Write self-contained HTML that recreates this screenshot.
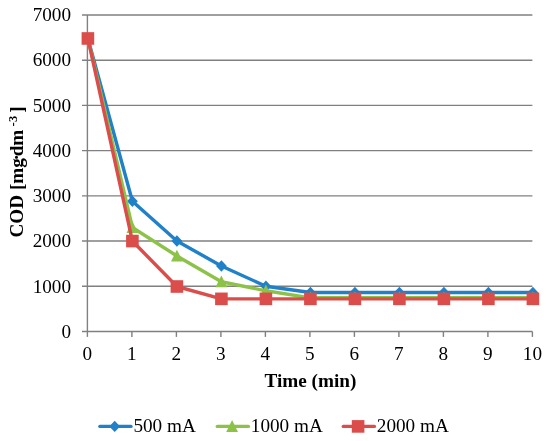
<!DOCTYPE html>
<html><head><meta charset="utf-8"><title>COD vs Time</title>
<style>
html,body{margin:0;padding:0;background:#fff;}
svg{display:block;}
text{font-family:"Liberation Serif",serif;fill:#000;}
</style></head><body>
<svg width="550" height="441" viewBox="0 0 550 441">
<rect width="550" height="441" fill="#fff"/>

<line x1="82" x2="532.4" y1="331.5" y2="331.5" stroke="#808080" stroke-width="1.4"/>
<line x1="82" x2="532.4" y1="286.28" y2="286.28" stroke="#808080" stroke-width="1.4"/>
<line x1="82" x2="532.4" y1="241.06" y2="241.06" stroke="#808080" stroke-width="1.4"/>
<line x1="82" x2="532.4" y1="195.84" y2="195.84" stroke="#808080" stroke-width="1.4"/>
<line x1="82" x2="532.4" y1="150.62" y2="150.62" stroke="#808080" stroke-width="1.4"/>
<line x1="82" x2="532.4" y1="105.4" y2="105.4" stroke="#808080" stroke-width="1.4"/>
<line x1="82" x2="532.4" y1="60.18" y2="60.18" stroke="#808080" stroke-width="1.4"/>
<line x1="82" x2="532.4" y1="14.96" y2="14.96" stroke="#808080" stroke-width="1.4"/>
<line x1="87.4" x2="87.4" y1="14.96" y2="331.5" stroke="#808080" stroke-width="1.4"/>
<line x1="87.4" x2="87.4" y1="331.5" y2="336.9" stroke="#808080" stroke-width="1.4"/>
<line x1="131.9" x2="131.9" y1="331.5" y2="336.9" stroke="#808080" stroke-width="1.4"/>
<line x1="176.4" x2="176.4" y1="331.5" y2="336.9" stroke="#808080" stroke-width="1.4"/>
<line x1="220.9" x2="220.9" y1="331.5" y2="336.9" stroke="#808080" stroke-width="1.4"/>
<line x1="265.4" x2="265.4" y1="331.5" y2="336.9" stroke="#808080" stroke-width="1.4"/>
<line x1="309.9" x2="309.9" y1="331.5" y2="336.9" stroke="#808080" stroke-width="1.4"/>
<line x1="354.4" x2="354.4" y1="331.5" y2="336.9" stroke="#808080" stroke-width="1.4"/>
<line x1="398.9" x2="398.9" y1="331.5" y2="336.9" stroke="#808080" stroke-width="1.4"/>
<line x1="443.4" x2="443.4" y1="331.5" y2="336.9" stroke="#808080" stroke-width="1.4"/>
<line x1="487.9" x2="487.9" y1="331.5" y2="336.9" stroke="#808080" stroke-width="1.4"/>
<line x1="532.4" x2="532.4" y1="331.5" y2="336.9" stroke="#808080" stroke-width="1.4"/>
<text x="71" y="337.8" font-size="19.2" text-anchor="end">0</text>
<text x="71" y="292.58" font-size="19.2" text-anchor="end">1000</text>
<text x="71" y="247.36" font-size="19.2" text-anchor="end">2000</text>
<text x="71" y="202.14000000000001" font-size="19.2" text-anchor="end">3000</text>
<text x="71" y="156.92000000000002" font-size="19.2" text-anchor="end">4000</text>
<text x="71" y="111.7" font-size="19.2" text-anchor="end">5000</text>
<text x="71" y="66.48" font-size="19.2" text-anchor="end">6000</text>
<text x="71" y="21.26" font-size="19.2" text-anchor="end">7000</text>
<text x="87.4" y="360" font-size="19.2" text-anchor="middle">0</text>
<text x="131.9" y="360" font-size="19.2" text-anchor="middle">1</text>
<text x="176.4" y="360" font-size="19.2" text-anchor="middle">2</text>
<text x="220.9" y="360" font-size="19.2" text-anchor="middle">3</text>
<text x="265.4" y="360" font-size="19.2" text-anchor="middle">4</text>
<text x="309.9" y="360" font-size="19.2" text-anchor="middle">5</text>
<text x="354.4" y="360" font-size="19.2" text-anchor="middle">6</text>
<text x="398.9" y="360" font-size="19.2" text-anchor="middle">7</text>
<text x="443.4" y="360" font-size="19.2" text-anchor="middle">8</text>
<text x="487.9" y="360" font-size="19.2" text-anchor="middle">9</text>
<text x="532.4" y="360" font-size="19.2" text-anchor="middle">10</text>
<text x="310.4" y="386.5" font-size="19.2" font-weight="bold" text-anchor="middle">Time (min)</text>
<text transform="translate(23,237.5) rotate(-90)" font-size="19.2" font-weight="bold"><tspan x="0">COD [mg</tspan><tspan x="76.9">·</tspan><tspan x="81.2">dm</tspan><tspan x="110.9" dy="-6.2" font-size="12.6">-</tspan><tspan x="115.6" font-size="12.6">3</tspan><tspan x="124.8" dy="6.2">]</tspan></text>
<polyline points="87.9,38.47 132.4,201.27 176.9,241.06 221.4,265.93 265.9,286.28 310.4,292.52 354.9,292.52 399.4,292.52 443.9,292.52 488.4,292.52 532.9,292.52" fill="none" stroke="#2080c8" stroke-width="3.4" stroke-linejoin="round" stroke-linecap="round"/>
<path d="M87.9 32.769999999999996L93.30000000000001 38.47L87.9 44.17L82.5 38.47Z" fill="#2080c8"/>
<path d="M132.4 195.57000000000002L137.8 201.27L132.4 206.97L127.0 201.27Z" fill="#2080c8"/>
<path d="M176.9 235.36L182.3 241.06L176.9 246.76L171.5 241.06Z" fill="#2080c8"/>
<path d="M221.4 260.23L226.8 265.93L221.4 271.63L216.0 265.93Z" fill="#2080c8"/>
<path d="M265.9 280.58L271.29999999999995 286.28L265.9 291.97999999999996L260.5 286.28Z" fill="#2080c8"/>
<path d="M310.4 286.82L315.79999999999995 292.52L310.4 298.21999999999997L305.0 292.52Z" fill="#2080c8"/>
<path d="M354.9 286.82L360.29999999999995 292.52L354.9 298.21999999999997L349.5 292.52Z" fill="#2080c8"/>
<path d="M399.4 286.82L404.79999999999995 292.52L399.4 298.21999999999997L394.0 292.52Z" fill="#2080c8"/>
<path d="M443.9 286.82L449.29999999999995 292.52L443.9 298.21999999999997L438.5 292.52Z" fill="#2080c8"/>
<path d="M488.4 286.82L493.79999999999995 292.52L488.4 298.21999999999997L483.0 292.52Z" fill="#2080c8"/>
<path d="M532.9 286.82L538.3 292.52L532.9 298.21999999999997L527.5 292.52Z" fill="#2080c8"/>
<polyline points="87.9,38.47 132.4,227.49 176.9,255.98 221.4,281.76 265.9,290.8 310.4,297.81 354.9,297.81 399.4,297.81 443.9,297.81 488.4,297.81 532.9,297.81" fill="none" stroke="#8cc247" stroke-width="3.4" stroke-linejoin="round" stroke-linecap="round"/>
<path d="M87.9 32.17L93.80000000000001 43.97L82.0 43.97Z" fill="#8cc247"/>
<path d="M132.4 221.19L138.3 232.99L126.5 232.99Z" fill="#8cc247"/>
<path d="M176.9 249.68L182.8 261.48L171.0 261.48Z" fill="#8cc247"/>
<path d="M221.4 275.46L227.3 287.26L215.5 287.26Z" fill="#8cc247"/>
<path d="M265.9 284.50L271.79999999999995 296.30L260.0 296.30Z" fill="#8cc247"/>
<path d="M310.4 291.51L316.29999999999995 303.31L304.5 303.31Z" fill="#8cc247"/>
<path d="M354.9 291.51L360.79999999999995 303.31L349.0 303.31Z" fill="#8cc247"/>
<path d="M399.4 291.51L405.29999999999995 303.31L393.5 303.31Z" fill="#8cc247"/>
<path d="M443.9 291.51L449.79999999999995 303.31L438.0 303.31Z" fill="#8cc247"/>
<path d="M488.4 291.51L494.29999999999995 303.31L482.5 303.31Z" fill="#8cc247"/>
<path d="M532.9 291.51L538.8 303.31L527.0 303.31Z" fill="#8cc247"/>
<polyline points="87.9,38.47 132.4,241.06 176.9,286.51 221.4,298.85 265.9,298.85 310.4,298.85 354.9,298.85 399.4,298.85 443.9,298.85 488.4,298.85 532.9,298.85" fill="none" stroke="#db4d4b" stroke-width="3.4" stroke-linejoin="round" stroke-linecap="round"/>
<rect x="81.60000000000001" y="32.17" width="12.6" height="12.6" fill="#db4d4b"/>
<rect x="126.10000000000001" y="234.76" width="12.6" height="12.6" fill="#db4d4b"/>
<rect x="170.6" y="280.21" width="12.6" height="12.6" fill="#db4d4b"/>
<rect x="215.1" y="292.55" width="12.6" height="12.6" fill="#db4d4b"/>
<rect x="259.59999999999997" y="292.55" width="12.6" height="12.6" fill="#db4d4b"/>
<rect x="304.09999999999997" y="292.55" width="12.6" height="12.6" fill="#db4d4b"/>
<rect x="348.59999999999997" y="292.55" width="12.6" height="12.6" fill="#db4d4b"/>
<rect x="393.09999999999997" y="292.55" width="12.6" height="12.6" fill="#db4d4b"/>
<rect x="437.59999999999997" y="292.55" width="12.6" height="12.6" fill="#db4d4b"/>
<rect x="482.09999999999997" y="292.55" width="12.6" height="12.6" fill="#db4d4b"/>
<rect x="526.6" y="292.55" width="12.6" height="12.6" fill="#db4d4b"/>
<line x1="99.9" x2="131.0" y1="426.4" y2="426.4" stroke="#2080c8" stroke-width="3.4" stroke-linecap="round"/><path d="M114.7 420.7L120.10000000000001 426.4L114.7 432.09999999999997L109.3 426.4Z" fill="#2080c8"/><text x="133.4" y="432.2" font-size="19.2">500 mA</text>
<line x1="217.29999999999998" x2="248.39999999999998" y1="426.4" y2="426.4" stroke="#8cc247" stroke-width="3.4" stroke-linecap="round"/><path d="M232.1 420.10L238.0 431.90L226.2 431.90Z" fill="#8cc247"/><text x="250.8" y="432.2" font-size="19.2">1000 mA</text>
<line x1="343.3" x2="374.40000000000003" y1="426.4" y2="426.4" stroke="#db4d4b" stroke-width="3.4" stroke-linecap="round"/><rect x="351.8" y="420.09999999999997" width="12.6" height="12.6" fill="#db4d4b"/><text x="376.8" y="432.2" font-size="19.2">2000 mA</text>
</svg></body></html>
